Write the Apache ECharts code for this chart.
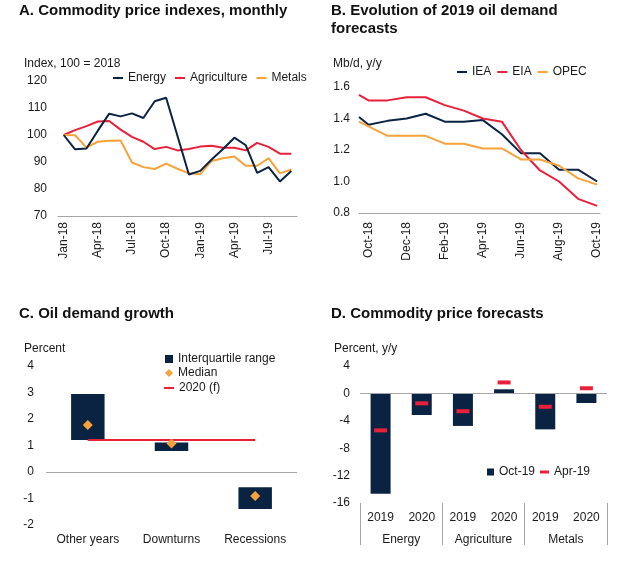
<!DOCTYPE html>
<html lang="en" style="height: 100%">
<head>
  <meta charset="utf-8">
</head>
<body style="height: 100%; margin: 0; background: #fff">
  <div id="container" style="width: 618px; height: 573px"></div>

  <script type="text/javascript" src="https://cdn.jsdelivr.net/npm/echarts@6/dist/echarts.min.js"></script>
  <script type="text/javascript">
    // A. Commodity price indexes
    var monthsA = ['Jan-18', 'Feb-18', 'Mar-18', 'Apr-18', 'May-18', 'Jun-18', 'Jul-18', 'Aug-18', 'Sep-18',
      'Oct-18', 'Nov-18', 'Dec-18', 'Jan-19', 'Feb-19', 'Mar-19', 'Apr-19', 'May-19', 'Jun-19', 'Jul-19',
      'Aug-19', 'Sep-19'];
    var energy = [100, 94.7, 95.0, 101.6, 107.9, 106.9, 108.0, 106.3, 112.5, 113.8, 99.6, 85.4, 86.7, 90.9,
      94.8, 99.0, 96.2, 86.0, 88.1, 82.8, 86.7];
    var agriculture = [100, 101.8, 103.3, 105.0, 105.2, 102.0, 99.3, 97.5, 94.8, 95.6, 94.3, 94.8, 95.7, 96.0,
      95.3, 95.3, 94.3, 97.1, 95.6, 93.1, 93.1];
    var metals = [100, 99.9, 95.4, 97.5, 97.9, 98.0, 89.8, 88.1, 87.4, 89.4, 87.5, 85.8, 85.5, 90.4,
      91.4, 92.0, 88.6, 88.6, 91.4, 85.8, 87.2];

    // B. 2019 oil demand forecasts (x = months after Oct-18)
    var monthsB = ['Oct-18', 'Nov-18', 'Dec-18', 'Jan-19', 'Feb-19', 'Mar-19', 'Apr-19', 'May-19', 'Jun-19',
      'Jul-19', 'Aug-19', 'Sep-19', 'Oct-19'];
    var stepsB = [-0.5, 0, 1, 2, 3, 4, 5, 6, 7, 8, 9, 10, 11, 12];
    var iea = [1.41, 1.36, 1.385, 1.40, 1.43, 1.38, 1.38, 1.39, 1.30, 1.18, 1.18, 1.075, 1.075, 1.00];
    var eia = [1.55, 1.515, 1.515, 1.535, 1.535, 1.485, 1.45, 1.40, 1.38, 1.20, 1.07, 1.00, 0.89, 0.845];
    var opec = [1.38, 1.35, 1.29, 1.29, 1.29, 1.24, 1.24, 1.21, 1.21, 1.14, 1.14, 1.10, 1.02, 0.98];

    // C. Oil demand growth
    var periodsC = ['Other years', 'Downturns', 'Recessions'];
    var q1 = [1.21, 0.79, -1.40];
    var q3 = [2.94, 1.11, -0.58];
    var medianC = [1.77, 1.08, -0.91];
    var forecast2020 = [1.21, 1.21, 1.21];

    // D. Commodity price forecasts
    var groupsD = ['Energy', 'Agriculture', 'Metals'];
    var yearsD = ['2019', '2020'];
    var oct19 = [-14.65, -3.15, -4.75, 0.6, -5.25, -1.4];
    var apr19 = [-5.4, -1.45, -2.6, 1.6, -1.95, 0.75];

    var NAVY = '#0b2343';
    var RED = '#e8213a';
    var ORANGE = '#f7a23b';
    var GREY = '#a6a6a6';
    var FONT = 'Liberation Sans';
    var TXT = '#1a1a1a';

    var catsD = [];
    groupsD.forEach(function () {
      yearsD.forEach(function (y) { catsD.push(y); });
    });

    // stacked bars for the boxes: invisible base + visible range
    var boxBase = q1.map(function (v, i) { return q3[i] <= 0 ? q3[i] : v; });
    var boxSize = q1.map(function (v, i) { return q3[i] <= 0 ? v - q3[i] : q3[i] - v; });

    function pairs(xs, ys) {
      return ys.map(function (v, i) { return [xs[i], v]; });
    }

    var label = { fontFamily: FONT, fontSize: 12, color: TXT };
    var noLine = { show: false };
    var noTick = { show: false };
    var greyLine = { show: true, onZero: false, lineStyle: { color: GREY, width: 1 } };
    var zeroLine = {
      silent: true, symbol: 'none', label: { show: false },
      lineStyle: { color: GREY, width: 1, type: 'solid' },
      data: [{ yAxis: 0 }]
    };

    var dom = document.getElementById('container');
    var myChart = echarts.init(dom, null, { renderer: 'canvas' });

    var titleStyle = { fontFamily: FONT, fontSize: 15, fontWeight: 'bold', color: '#111', lineHeight: 18 };
    var unitStyle = { fontFamily: FONT, fontSize: 12, fontWeight: 'normal', color: TXT };

    var option = {
      animation: false,
      backgroundColor: '#fff',
      textStyle: { fontFamily: FONT },
      title: [
        { text: 'A. Commodity price indexes, monthly', left: 19, top: 2, padding: 0, textStyle: titleStyle },
        { text: 'B. Evolution of 2019 oil demand\nforecasts', left: 331, top: 2, padding: 0, textStyle: titleStyle },
        { text: 'C. Oil demand growth', left: 19, top: 305, padding: 0, textStyle: titleStyle },
        { text: 'D. Commodity price forecasts', left: 331, top: 305, padding: 0, textStyle: titleStyle },
        { text: 'Index, 100 = 2018', left: 24, top: 58, padding: 0, textStyle: unitStyle },
        { text: 'Mb/d, y/y', left: 333, top: 58, padding: 0, textStyle: unitStyle },
        { text: 'Percent', left: 24, top: 343, padding: 0, textStyle: unitStyle },
        { text: 'Percent, y/y', left: 334, top: 343, padding: 0, textStyle: unitStyle }
      ],
      legend: [
        { data: ['Energy', 'Agriculture', 'Metals'], left: 112, top: 72, itemWidth: 10, itemHeight: 3,
          itemGap: 8, padding: 0, textStyle: label },
        { data: ['IEA', 'EIA', 'OPEC'], left: 456, top: 66, itemWidth: 10, itemHeight: 3,
          itemGap: 5, padding: 0, textStyle: label },
        { data: [{ name: 'Interquartile range', icon: 'rect' }], left: 165, top: 353, itemWidth: 8, itemHeight: 8,
          padding: 0, textStyle: label },
        { data: [{ name: 'Median', icon: 'diamond' }], left: 165, top: 367, itemWidth: 8, itemHeight: 8,
          padding: 0, textStyle: label },
        { data: ['2020 (f)'], left: 163, top: 382, itemWidth: 10, itemHeight: 3, padding: 0, textStyle: label },
        { data: [{ name: 'Oct-19', icon: 'rect' }], left: 487, top: 466, itemWidth: 7, itemHeight: 7,
          padding: 0, textStyle: label },
        { data: [{ name: 'Apr-19', icon: 'rect' }], left: 540, top: 466, itemWidth: 9, itemHeight: 3,
          padding: 0, textStyle: label }
      ],
      grid: [
        { left: 58, right: 321, top: 81, bottom: 357 },
        { left: 359, right: 18, top: 87, bottom: 360 },
        { left: 46, right: 321, top: 366, bottom: 48 },
        { left: 360, right: 11, top: 366, bottom: 70 }
      ],
      xAxis: [
        { gridIndex: 0, type: 'category', data: monthsA, boundaryGap: true,
          axisLine: greyLine, axisTick: noTick,
          axisLabel: Object.assign({ rotate: 90, interval: 2, margin: 6 }, label) },
        { gridIndex: 1, type: 'value', min: -0.5, max: 12.15, splitLine: { show: false },
          axisLine: greyLine, axisTick: noTick,
          axisLabel: Object.assign({
            rotate: 90, margin: 9, customValues: [0, 2, 4, 6, 8, 10, 12],
            formatter: function (v) { return monthsB[Math.round(v)] || ''; }
          }, label) },
        { gridIndex: 2, type: 'category', data: periodsC, boundaryGap: true,
          axisLine: { show: false, onZero: false }, axisTick: noTick,
          axisLabel: Object.assign({ margin: 9 }, label) },
        { gridIndex: 3, type: 'category', data: catsD, position: 'bottom',
          axisLine: { show: false, onZero: false }, axisTick: noTick,
          axisLabel: Object.assign({ margin: 9, interval: 0 }, label) },
        { gridIndex: 3, type: 'category', data: groupsD, position: 'bottom',
          axisLine: { show: false, onZero: false },
          axisTick: { show: true, length: 42, lineStyle: { color: GREY, width: 1 } },
          axisLabel: Object.assign({ margin: 31, interval: 0 }, label) }
      ],
      yAxis: [
        { gridIndex: 0, type: 'value', min: 70, max: 120, interval: 10, splitLine: { show: false },
          axisLine: noLine, axisTick: noTick, axisLabel: Object.assign({ margin: 11 }, label) },
        { gridIndex: 1, type: 'value', min: 0.8, max: 1.6, interval: 0.2, splitLine: { show: false },
          axisLine: noLine, axisTick: noTick,
          axisLabel: Object.assign({ margin: 9, formatter: function (v) { return v.toFixed(1); } }, label) },
        { gridIndex: 2, type: 'value', min: -2, max: 4, interval: 1, splitLine: { show: false },
          axisLine: noLine, axisTick: noTick, axisLabel: Object.assign({ margin: 12 }, label) },
        { gridIndex: 3, type: 'value', min: -16, max: 4, interval: 4, splitLine: { show: false },
          axisLine: noLine, axisTick: noTick, axisLabel: Object.assign({ margin: 10 }, label) }
      ],
      series: [
        // A
        { name: 'Energy', type: 'line', xAxisIndex: 0, yAxisIndex: 0, data: energy, symbol: 'none',
          color: NAVY, lineStyle: { width: 2 }, z: 4 },
        { name: 'Agriculture', type: 'line', xAxisIndex: 0, yAxisIndex: 0, data: agriculture, symbol: 'none',
          color: RED, lineStyle: { width: 2 }, z: 3 },
        { name: 'Metals', type: 'line', xAxisIndex: 0, yAxisIndex: 0, data: metals, symbol: 'none',
          color: ORANGE, lineStyle: { width: 2 }, z: 3 },
        // B
        { name: 'IEA', type: 'line', xAxisIndex: 1, yAxisIndex: 1, data: pairs(stepsB, iea), symbol: 'none',
          color: NAVY, lineStyle: { width: 2 }, z: 3 },
        { name: 'EIA', type: 'line', xAxisIndex: 1, yAxisIndex: 1, data: pairs(stepsB, eia), symbol: 'none',
          color: RED, lineStyle: { width: 2 }, z: 3 },
        { name: 'OPEC', type: 'line', xAxisIndex: 1, yAxisIndex: 1, data: pairs(stepsB, opec), symbol: 'none',
          color: ORANGE, lineStyle: { width: 2 }, z: 4 },
        // C
        { name: 'base', type: 'bar', xAxisIndex: 2, yAxisIndex: 2, stack: 'iqr', data: boxBase,
          barWidth: '40%', itemStyle: { color: 'transparent' }, silent: true, markLine: zeroLine },
        { name: 'Interquartile range', type: 'bar', xAxisIndex: 2, yAxisIndex: 2, stack: 'iqr', data: boxSize,
          barWidth: '40%', color: NAVY },
        { name: '2020 (f)', type: 'line', xAxisIndex: 2, yAxisIndex: 2, data: forecast2020, symbol: 'none',
          color: RED, lineStyle: { width: 2 }, z: 4 },
        { name: 'Median', type: 'scatter', xAxisIndex: 2, yAxisIndex: 2, data: medianC, symbol: 'diamond',
          symbolSize: 10, color: ORANGE, itemStyle: { opacity: 1 }, z: 5 },
        // D
        { name: 'Oct-19', type: 'bar', xAxisIndex: 3, yAxisIndex: 3, data: oct19, barWidth: 20,
          color: NAVY, markLine: zeroLine },
        { name: 'Apr-19', type: 'scatter', xAxisIndex: 3, yAxisIndex: 3, data: apr19, symbol: 'rect',
          symbolSize: [13, 4], color: RED, itemStyle: { opacity: 1 }, z: 5 }
      ]
    };

    myChart.setOption(option);
    window.addEventListener('resize', myChart.resize);
  </script>
</body>
</html>
